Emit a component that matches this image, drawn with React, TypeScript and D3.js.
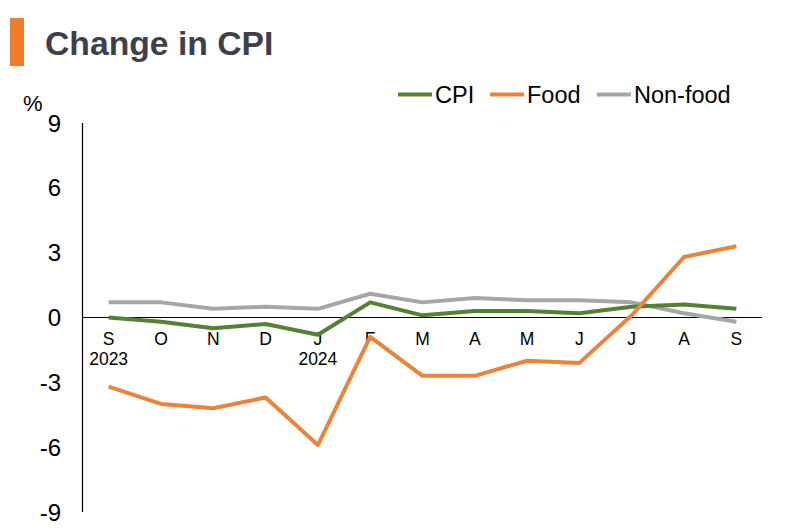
import React from "react";
import * as d3 from "d3";

const months = ["S", "O", "N", "D", "J", "F", "M", "A", "M", "J", "J", "A", "S"];
const yearLabels = ["2023", "", "", "", "2024", "", "", "", "", "", "", "", ""];
const cpi = [0.0, -0.2, -0.5, -0.3, -0.8, 0.7, 0.1, 0.3, 0.3, 0.2, 0.5, 0.6, 0.4];
const food = [-3.2, -4.0, -4.2, -3.7, -5.9, -0.9, -2.7, -2.7, -2.0, -2.1, 0.1, 2.8, 3.3];
const nonFood = [0.7, 0.7, 0.4, 0.5, 0.4, 1.1, 0.7, 0.9, 0.8, 0.8, 0.7, 0.2, -0.2];
const yTicks = [9, 6, 3, 0, -3, -6, -9];

const seriesList = [
  { name: "CPI", values: cpi, color: "#548235", lx: 398 },
  { name: "Food", values: food, color: "#EA843C", lx: 490 },
  { name: "Non-food", values: nonFood, color: "#A6A6A6", lx: 597 },
];

const W = 785;
const H = 531;
const FONT = "'Liberation Sans', Arial, sans-serif";

export default function App() {
  const idx = months.map((_, i) => String(i));
  const x = d3.scaleBand<string>().domain(idx).range([82.5, 762.5]);
  const y = d3.scaleLinear().domain([-9, 9]).range([512, 123]);
  const cx = (i: number) => (x(String(i)) as number) + x.bandwidth() / 2;
  const line = d3
    .line<number>()
    .x((_, i) => cx(i))
    .y((d) => y(d));

  return (
    <svg
      width={W}
      height={H}
      viewBox={`0 0 ${W} ${H}`}
      style={{ position: "absolute", left: 0, top: 0, background: "#fff", fontFamily: FONT }}
    >
      <rect x={0} y={0} width={W} height={H} fill="#fff" />
      {/* title */}
      <rect x={10} y={18} width={14} height={48} fill="#F07D2A" />
      <text x={45} y={55} fontSize={33.7} fontWeight="bold" fill="#3E4049">
        Change in CPI
      </text>
      {/* legend */}
      {seriesList.map((s) => (
        <g key={s.name}>
          <line x1={s.lx} x2={s.lx + 34} y1={94.5} y2={94.5} stroke={s.color} strokeWidth={4} />
          <text x={s.lx + 37} y={103} fontSize={23.5} fill="#000">
            {s.name}
          </text>
        </g>
      ))}
      {/* y axis */}
      <text x={23} y={111} fontSize={22} fill="#000">
        %
      </text>
      {yTicks.map((t) => (
        <text key={t} x={61} y={y(t)} fontSize={24} textAnchor="end" dominantBaseline="central" fill="#000">
          {t}
        </text>
      ))}
      <line x1={82.5} x2={82.5} y1={123} y2={512} stroke="#000" strokeWidth={1.2} />
      {/* x axis */}
      <line x1={82.5} x2={762} y1={y(0)} y2={y(0)} stroke="#000" strokeWidth={1.2} />
      {months.map((m, i) => (
        <g key={i}>
          <text x={cx(i)} y={345} fontSize={17.5} textAnchor="middle" fill="#000">
            {m}
          </text>
          {yearLabels[i] && (
            <text x={cx(i)} y={365} fontSize={17.5} textAnchor="middle" fill="#000">
              {yearLabels[i]}
            </text>
          )}
        </g>
      ))}
      {/* lines: draw order grey, green, orange */}
      {[seriesList[2], seriesList[0], seriesList[1]].map((s) => (
        <path
          key={s.name}
          d={line(s.values) || ""}
          fill="none"
          stroke={s.color}
          strokeWidth={4}
          strokeLinejoin="round"
        />
      ))}
    </svg>
  );
}
